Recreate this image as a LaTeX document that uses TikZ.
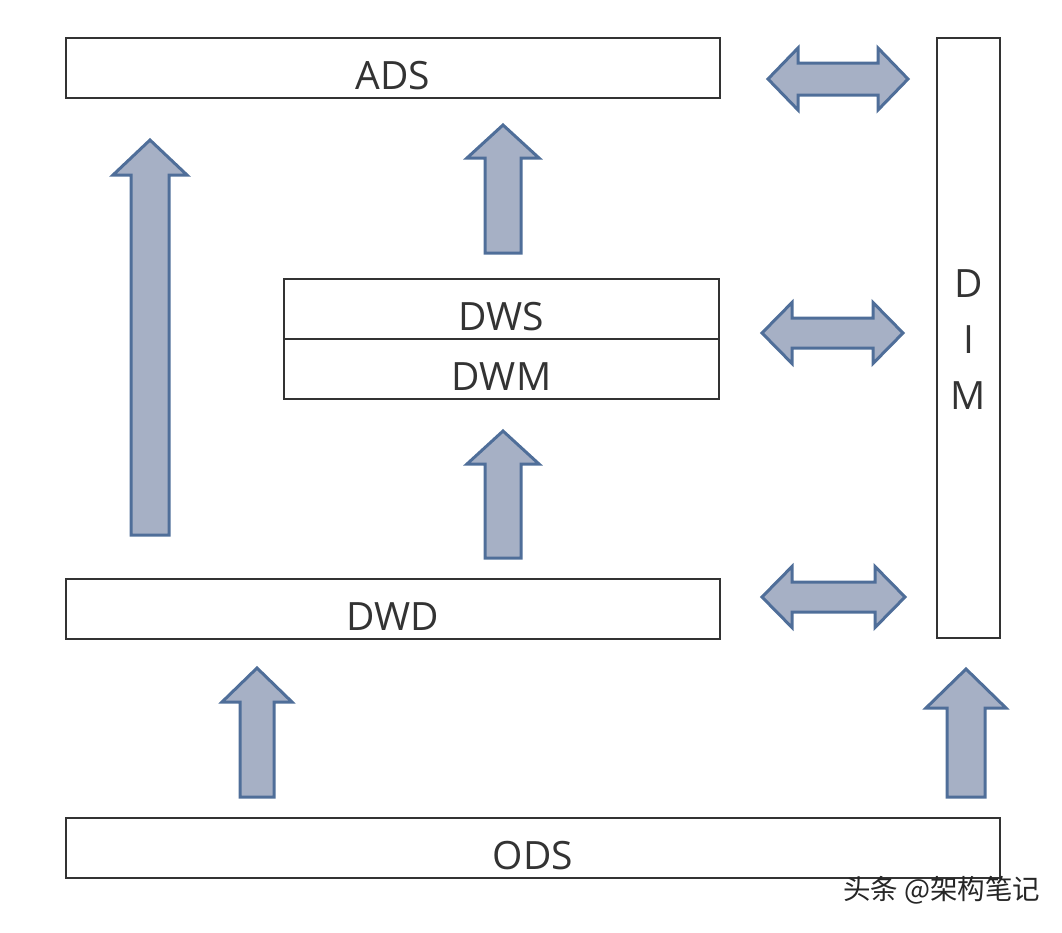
\documentclass[tikz,border=0pt]{standalone}
\usepackage{fontspec}
\setmainfont{Open Sans}
\newfontfamily\cjkfont{Noto Sans CJK SC}
\usepackage{xcolor}
\definecolor{layerline}{HTML}{333333}
\definecolor{arrowfill}{HTML}{A6B0C5}
\definecolor{arrowline}{HTML}{4F6E99}
\usepackage{tikz}
\usetikzlibrary{positioning,calc}
\tikzset{
  layerbox/.style={draw=layerline,line width=2pt,fill=white,inner sep=0pt,
    minimum height=60pt,text height=42pt,text depth=0pt,
    font=\fontsize{39}{44}\selectfont,text=layerline},
  blockarrow/.style={draw=arrowline,fill=arrowfill,line width=3pt,line join=miter}
}
% up block arrow: x, tip y, bottom y, shaft half, head half, head length
\newcommand{\upblock}[6]{%
  \draw[blockarrow] (#1,#2) -- (#1+#5,#2+#6) -- (#1+#4,#2+#6) -- (#1+#4,#3)
    -- (#1-#4,#3) -- (#1-#4,#2+#6) -- (#1-#5,#2+#6) -- cycle;}
% double block arrow: y, left tip, right tip, head length, shaft half, head half
\newcommand{\dblblock}[6]{%
  \draw[blockarrow] (#2,#1) -- (#2+#4,#1-#6) -- (#2+#4,#1-#5) -- (#3-#4,#1-#5)
    -- (#3-#4,#1-#6) -- (#3,#1) -- (#3-#4,#1+#6) -- (#3-#4,#1+#5)
    -- (#2+#4,#1+#5) -- (#2+#4,#1+#6) -- cycle;}

\begin{document}
\begin{tikzpicture}[x=1pt,y=-1pt]
\useasboundingbox (0,0) rectangle (1062,932);
% layers
\node[layerbox,minimum width=654pt] (ads) at (393,68) {ADS};
\node[layerbox,minimum width=435pt] (dws) at (501.5,309) {DWS};
\node[layerbox,minimum width=435pt] (dwm) at (501.5,369) {DWM};
\node[layerbox,minimum width=654pt] (dwd) at (393,609) {DWD};
\node[layerbox,minimum width=934pt] (ods) at (533,848) {ODS};
\node[draw=layerline,line width=2pt,minimum width=63pt,minimum height=600pt,inner sep=0pt] (dim) at (968.5,338) {};
\node[font=\fontsize{39}{56}\selectfont,text=layerline,align=center] (dimtext) at (968.5,340) {D\\I\\M};
% up arrows
\upblock{150}{140}{535}{19}{37}{35}
\upblock{503}{125}{253}{18}{36}{33}
\upblock{503}{431}{558}{18}{36}{33}
\upblock{257}{668}{797}{17}{35}{34}
\upblock{966}{669}{797}{19}{40}{39}
% links to DIM
\dblblock{79}{768}{908}{30}{16}{31}
\dblblock{333}{762}{903}{30}{15}{30.5}
\dblblock{597}{762}{905}{30}{15}{30.5}
% watermark
\node[anchor=west,font=\cjkfont\fontsize{27.5}{30}\selectfont,text=black!85,inner sep=0pt] (mark) at (843,890) {头条 @架构笔记};
\end{tikzpicture}
\end{document}
